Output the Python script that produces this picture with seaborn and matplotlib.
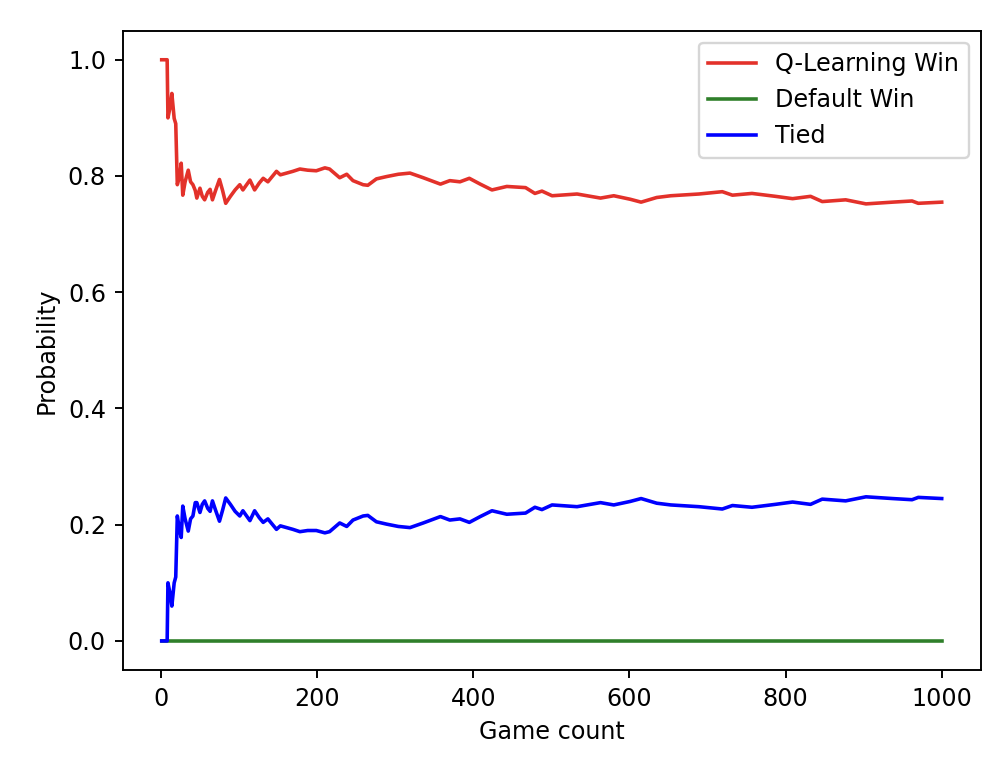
import numpy as np
import pandas as pd
import matplotlib
matplotlib.use("Agg")
import matplotlib.pyplot as plt
import seaborn as sns

# values
games = [1, 8, 9, 12, 14, 17, 19, 21, 24, 26, 28, 31, 35, 38, 41, 44, 46, 50, 53, 56,
         60, 63, 66, 70, 75, 79, 83, 89, 95, 101, 105, 114, 120, 126, 131, 137, 148, 153,
         169, 178, 188, 199, 210, 216, 229, 238, 246, 259, 265, 276, 289, 304, 319, 336,
         358, 370, 383, 395, 409, 424, 443, 467, 479, 488, 501, 533, 563, 580, 601, 615,
         635, 653, 689, 719, 732, 757, 787, 809, 832, 847, 877, 903, 937, 962, 970, 1000]

q_win = [1.0, 1.0, 0.90, 0.92, 0.942, 0.899, 0.89, 0.785, 0.80, 0.822, 0.767, 0.79, 0.81,
         0.79, 0.785, 0.775, 0.762, 0.779, 0.765, 0.759, 0.772, 0.777, 0.759, 0.775, 0.794,
         0.775, 0.753, 0.765, 0.776, 0.785, 0.776, 0.793, 0.776, 0.788, 0.796, 0.79, 0.808,
         0.802, 0.808, 0.812, 0.81, 0.809, 0.814, 0.812, 0.797, 0.803, 0.792, 0.785, 0.784,
         0.795, 0.799, 0.803, 0.805, 0.797, 0.786, 0.792, 0.79, 0.796, 0.786, 0.776, 0.782,
         0.780, 0.770, 0.774, 0.766, 0.769, 0.762, 0.766, 0.760, 0.755, 0.763, 0.766, 0.769,
         0.773, 0.767, 0.770, 0.765, 0.761, 0.765, 0.756, 0.759, 0.752, 0.755, 0.757, 0.753,
         0.755]

tied = [0.0, 0.0, 0.10, 0.08, 0.06, 0.10, 0.11, 0.215, 0.19, 0.178, 0.232, 0.21, 0.189,
        0.21, 0.215, 0.238, 0.238, 0.221, 0.235, 0.241, 0.228, 0.223, 0.241, 0.225, 0.206,
        0.225, 0.246, 0.235, 0.223, 0.215, 0.224, 0.207, 0.224, 0.212, 0.204, 0.21, 0.192,
        0.198, 0.192, 0.188, 0.19, 0.19, 0.186, 0.188, 0.203, 0.197, 0.208, 0.215, 0.216,
        0.205, 0.201, 0.197, 0.195, 0.203, 0.214, 0.208, 0.21, 0.204, 0.214, 0.224, 0.218,
        0.220, 0.230, 0.226, 0.234, 0.231, 0.238, 0.234, 0.240, 0.245, 0.237, 0.234, 0.231,
        0.227, 0.233, 0.230, 0.235, 0.239, 0.235, 0.244, 0.241, 0.248, 0.245, 0.243, 0.247,
        0.245]

default_games = [1, 1000]
default_win = [0.0, 0.0]

df = pd.DataFrame({"game": games, "q_win": q_win, "tied": tied})
df_def = pd.DataFrame({"game": default_games, "default_win": default_win})

dpi = 172
fig, ax = plt.subplots(figsize=(1004 / dpi, 758 / dpi), dpi=dpi)
fig.subplots_adjust(left=0.1222, right=0.9768, top=0.9595, bottom=0.1161)

sns.lineplot(data=df, x="game", y="q_win", color="#e3312a", label="Q-Learning Win", ax=ax)
sns.lineplot(data=df_def, x="game", y="default_win", color="#2f7f2a", label="Default Win", ax=ax)
sns.lineplot(data=df, x="game", y="tied", color="#0000ff", label="Tied", ax=ax)

ax.set_xlabel("Game count")
ax.set_ylabel("Probability")
ax.legend(loc="upper right")

fig.savefig("out.png", dpi=dpi)
